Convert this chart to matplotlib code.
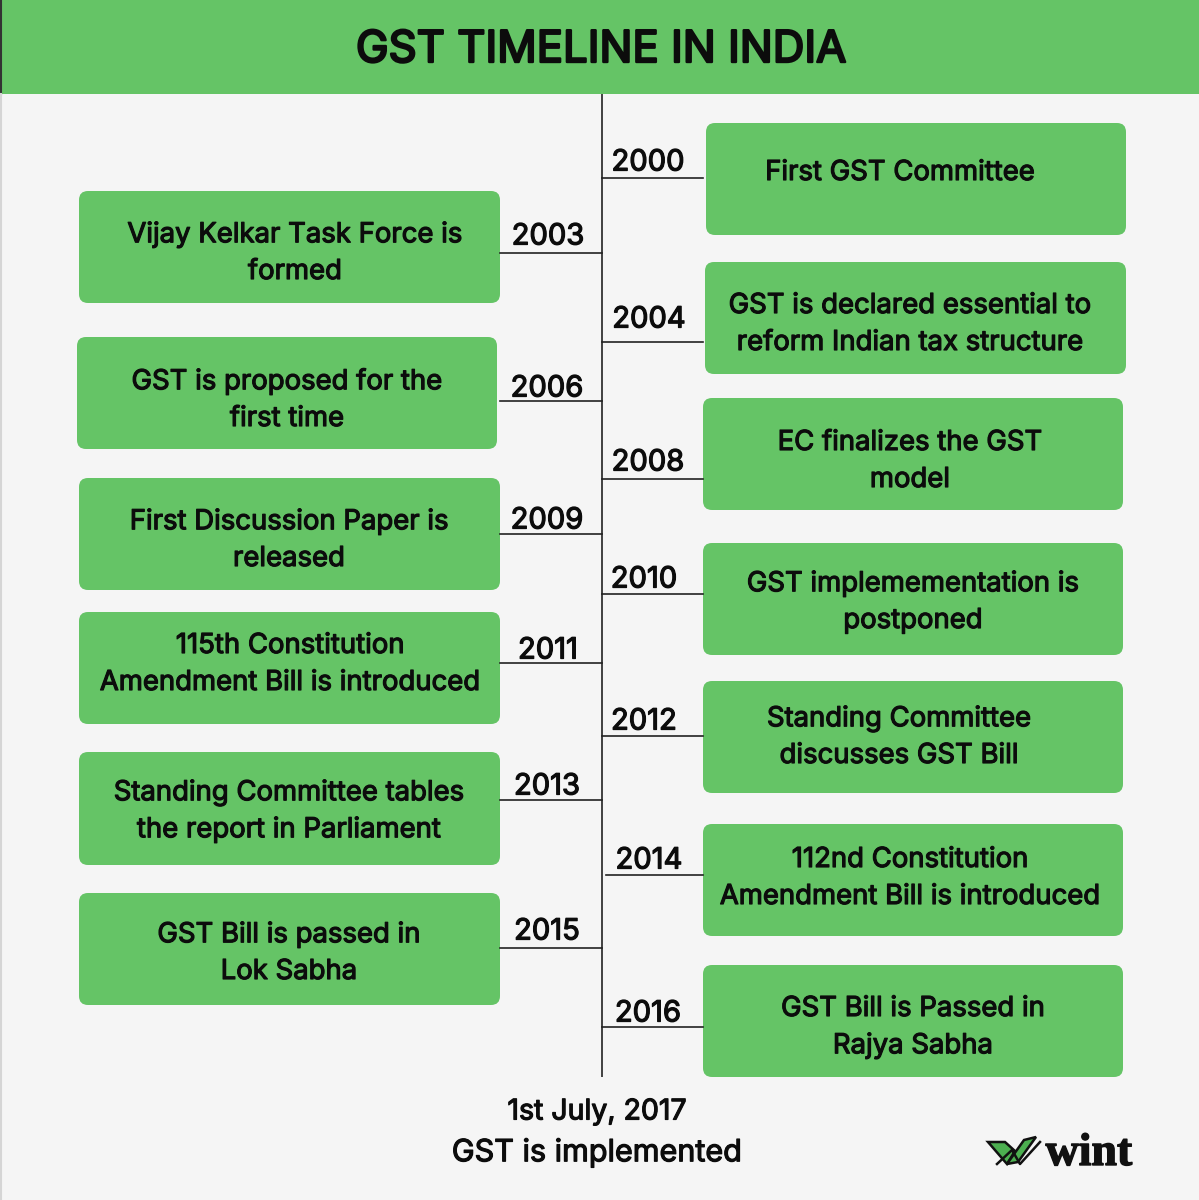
import matplotlib
matplotlib.use("Agg")
import matplotlib.pyplot as plt
import matplotlib.patheffects as pe
from matplotlib.patches import FancyBboxPatch, Rectangle, Polygon

# Timeline content
left_years = ["2003", "2006", "2009", "2011", "2013", "2015"]
left_events = [
    ["Vijay Kelkar Task Force is", "formed"],
    ["GST is proposed for the", "first time"],
    ["First Discussion Paper is", "released"],
    ["115th Constitution", "Amendment Bill is introduced"],
    ["Standing Committee tables", "the report in Parliament"],
    ["GST Bill is passed in", "Lok Sabha"],
]
right_years = ["2000", "2004", "2008", "2010", "2012", "2014", "2016"]
right_events = [
    ["First GST Committee"],
    ["GST is declared essential to", "reform Indian tax structure"],
    ["EC finalizes the GST", "model"],
    ["GST implemementation is", "postponed"],
    ["Standing Committee", "discusses GST Bill"],
    ["112nd Constitution", "Amendment Bill is introduced"],
    ["GST Bill is Passed in", "Rajya Sabha"],
]

# Layout in pixels: box x0, x1, y0, y1, branch y, year x, year y, text x, first text line y
left_layout = [
    (79, 500, 191, 303, 253, 548, 234, 295, 232),
    (77, 497, 337, 449, 401, 547, 386, 287, 379),
    (79, 500, 478, 590, 534, 547, 518, 289, 519),
    (79, 500, 612, 724, 663, 548, 648, 290, 643),
    (79, 500, 752, 865, 800, 547, 784, 289, 790),
    (79, 500, 893, 1005, 948, 547, 929, 289, 932),
]
right_layout = [
    (706, 1126, 123, 235, 178, 648, 160, 900, 170),
    (705, 1126, 262, 374, 342, 649, 317, 910, 303),
    (703, 1123, 398, 510, 479, 648, 460, 910, 440),
    (703, 1123, 543, 655, 594, 644, 577, 913, 581),
    (703, 1123, 681, 793, 736, 644, 719, 899, 716),
    (703, 1123, 824, 936, 875, 649, 858, 910, 857),
    (703, 1123, 965, 1077, 1027, 648, 1011, 913, 1006),
]

GREEN = "#65C466"
BG = "#F5F5F5"
INK = "#0C0C0C"
FONT = ["Inter", "DejaVu Sans"]
LINE_GAP = 37


def heavy(width):
    # Inter only comes out in one weight here, so thicken the glyphs with a stroke
    return [pe.withStroke(linewidth=width, foreground=INK)]


fig = plt.figure(figsize=(11.99, 12), dpi=100, facecolor=BG)
ax = fig.add_axes([0, 0, 1, 1])
ax.set_xlim(0, 1199)
ax.set_ylim(1200, 0)
ax.axis("off")

# Header band
ax.add_patch(Rectangle((0, 0), 1199, 94, facecolor=GREEN, edgecolor="none"))
ax.plot([0.5, 0.5], [0, 94], color="#333333", lw=1.5)
ax.plot([0.5, 0.5], [94, 1200], color="#D5D5D5", lw=1.5)
ax.text(601, 46, "GST TIMELINE IN INDIA", ha="center", va="center_baseline",
        fontsize=31.5, family=FONT, color=INK, path_effects=heavy(1.7))

# Main vertical line
ax.plot([602, 602], [94, 1077], color="#222222", lw=1.2, solid_capstyle="butt")


def draw_item(year, lines, layout, side):
    x0, x1, y0, y1, branch_y, year_x, year_y, text_x, text_y = layout
    ax.add_patch(FancyBboxPatch((x0 + 9, y0 + 9), x1 - x0 - 18, y1 - y0 - 18,
                                boxstyle="round,pad=9,rounding_size=9",
                                facecolor=GREEN, edgecolor="none"))
    # branch runs between the box and the main line
    if side == "left":
        ax.plot([500, 602], [branch_y, branch_y], color="#222222", lw=1.2)
    else:
        start = 606 if year == "2014" else 602
        ax.plot([start, 703], [branch_y, branch_y], color="#222222", lw=1.2)
    ax.text(year_x, year_y, year, ha="center", va="center_baseline",
            fontsize=21, family=FONT, color=INK, path_effects=heavy(0.9))
    for i, line in enumerate(lines):
        ax.text(text_x, text_y + i * LINE_GAP, line, ha="center", va="center_baseline",
                fontsize=19.8, family=FONT, color=INK, path_effects=heavy(0.85))


for year, lines, layout in zip(left_years, left_events, left_layout):
    draw_item(year, lines, layout, "left")
for year, lines, layout in zip(right_years, right_events, right_layout):
    draw_item(year, lines, layout, "right")

# Closing note
ax.text(597, 1109, "1st July, 2017", ha="center", va="center_baseline",
        fontsize=20.5, family=FONT, color=INK, path_effects=heavy(0.85))
ax.text(597, 1150, "GST is implemented", ha="center", va="center_baseline",
        fontsize=22, family=FONT, color=INK, path_effects=heavy(0.85))

# Logo
ax.add_patch(Polygon([(988, 1142), (1005, 1142), (1015, 1151), (1007, 1164)],
                     closed=True, facecolor="#4CAF50", edgecolor="#111111", lw=1.8))
ax.add_patch(Polygon([(1007, 1164), (1024, 1140), (1036, 1137), (1018, 1162)],
                     closed=True, facecolor="#4CAF50", edgecolor="#111111", lw=1.8))
ax.plot([997, 1012, 1020, 1040], [1164, 1150, 1164, 1142], color="#111111", lw=1.8)
ax.text(1089, 1149, "wint", ha="center", va="center_baseline", fontsize=33,
        fontweight="bold", family="Liberation Serif", color="#111111",
        path_effects=[pe.withStroke(linewidth=1.0, foreground="#111111")])

fig.savefig("out.png", dpi=100, facecolor=BG)
